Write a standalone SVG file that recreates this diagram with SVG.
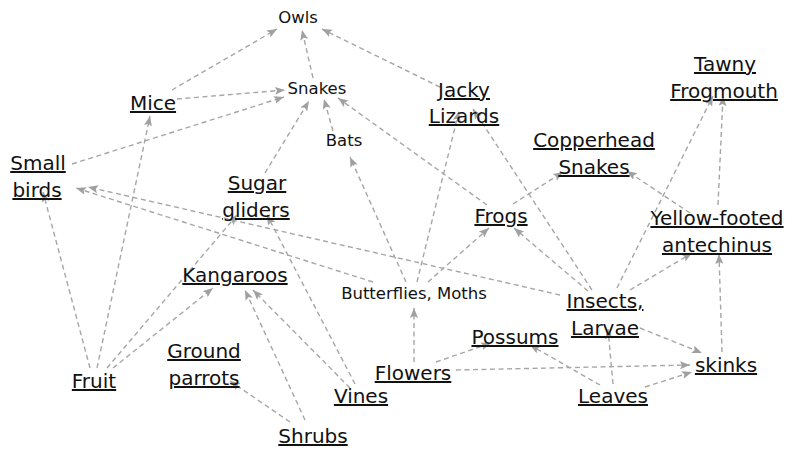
<svg xmlns="http://www.w3.org/2000/svg" width="800" height="455" viewBox="0 0 800 455">
<style>
.bg{fill:#ffffff}
text{font-family:"DejaVu Sans",sans-serif;fill:#111;text-anchor:middle}
.s{font-size:16.5px}
.b{font-size:20px;text-decoration:underline}
.e line{stroke:#a6a6a6;stroke-width:1.4;stroke-dasharray:5 3.5;fill:none;marker-end:url(#ah)}
</style>
<defs>
<marker id="ah" markerUnits="userSpaceOnUse" markerWidth="11" markerHeight="9" refX="10" refY="4" orient="auto">
<path d="M0,0 L10,4 L0,8 L2,4 Z" fill="#a0a0a0"/>
</marker>
</defs>
<rect class="bg" x="0" y="0" width="800" height="455"/>
<g id="connectors" class="e">
<line x1="172" y1="90" x2="277" y2="29"/>
<line x1="313" y1="78" x2="302" y2="30"/>
<line x1="440" y1="87" x2="322" y2="29"/>
<line x1="177" y1="99" x2="285" y2="90"/>
<line x1="72" y1="164" x2="284" y2="97"/>
<line x1="265" y1="173" x2="309" y2="101"/>
<line x1="333" y1="131" x2="324" y2="99"/>
<line x1="487" y1="205" x2="338" y2="98"/>
<line x1="406" y1="282" x2="350" y2="157"/>
<line x1="417" y1="282" x2="459" y2="111"/>
<line x1="428" y1="282" x2="489" y2="228"/>
<line x1="373" y1="282" x2="76" y2="188"/>
<line x1="560" y1="295" x2="88" y2="187"/>
<line x1="90" y1="368" x2="43" y2="192"/>
<line x1="97" y1="368" x2="150" y2="116"/>
<line x1="107" y1="368" x2="237" y2="215"/>
<line x1="113" y1="368" x2="213" y2="288"/>
<line x1="355" y1="384" x2="267" y2="215"/>
<line x1="350" y1="388" x2="253" y2="290"/>
<line x1="305" y1="420" x2="245" y2="290"/>
<line x1="290" y1="422" x2="230" y2="381"/>
<line x1="414" y1="362" x2="414" y2="308"/>
<line x1="436" y1="362" x2="491" y2="343"/>
<line x1="456" y1="370" x2="690" y2="365"/>
<line x1="600" y1="385" x2="530" y2="345"/>
<line x1="613" y1="384" x2="608" y2="329"/>
<line x1="645" y1="387" x2="692" y2="372"/>
<line x1="640" y1="328" x2="702" y2="353"/>
<line x1="630" y1="290" x2="692" y2="253"/>
<line x1="722" y1="352" x2="719" y2="254"/>
<line x1="617" y1="288" x2="713" y2="96"/>
<line x1="718" y1="205" x2="723" y2="96"/>
<line x1="513" y1="204" x2="563" y2="172"/>
<line x1="690" y1="213" x2="627" y2="171"/>
<line x1="588" y1="291" x2="514" y2="228"/>
<line x1="592" y1="290" x2="473" y2="109"/>
</g>
<g id="owls"><text class="s" x="298" y="23">Owls</text></g>
<g id="snakes"><text class="s" x="317" y="94">Snakes</text></g>
<g id="bats"><text class="s" x="344" y="146">Bats</text></g>
<g id="butterflies"><text class="s" x="414" y="299">Butterflies, Moths</text></g>
<g id="mice"><text class="b" x="153" y="110">Mice</text></g>
<g id="small-birds"><text class="b" x="38" y="170">Small</text><text class="b" x="37" y="197">birds</text></g>
<g id="sugar-gliders"><text class="b" x="257" y="190">Sugar</text><text class="b" x="256" y="217">gliders</text></g>
<g id="jacky-lizards"><text class="b" x="464" y="97">Jacky</text><text class="b" x="464" y="123">Lizards</text></g>
<g id="tawny-frogmouth"><text class="b" x="725" y="71">Tawny</text><text class="b" x="724" y="98">Frogmouth</text></g>
<g id="copperhead-snakes"><text class="b" x="594" y="147">Copperhead</text><text class="b" x="594" y="174">Snakes</text></g>
<g id="frogs"><text class="b" x="501" y="223">Frogs</text></g>
<g id="antechinus"><text class="b" x="717" y="225">Yellow-footed</text><text class="b" x="717" y="252">antechinus</text></g>
<g id="kangaroos"><text class="b" x="235" y="282">Kangaroos</text></g>
<g id="insects"><text class="b" x="605" y="308">Insects,</text><text class="b" x="605" y="335">Larvae</text></g>
<g id="possums"><text class="b" x="515" y="344">Possums</text></g>
<g id="ground-parrots"><text class="b" x="204" y="358">Ground</text><text class="b" x="204" y="385">parrots</text></g>
<g id="fruit"><text class="b" x="94" y="388">Fruit</text></g>
<g id="flowers"><text class="b" x="413" y="380">Flowers</text></g>
<g id="skinks"><text class="b" x="726" y="372">skinks</text></g>
<g id="vines"><text class="b" x="361" y="403">Vines</text></g>
<g id="leaves"><text class="b" x="613" y="403">Leaves</text></g>
<g id="shrubs"><text class="b" x="313" y="443">Shrubs</text></g>
</svg>
